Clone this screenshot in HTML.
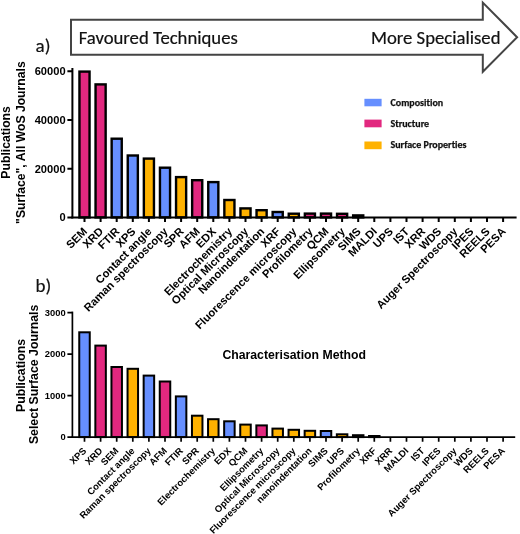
<!DOCTYPE html>
<html><head><meta charset="utf-8"><title>Surface characterisation techniques</title>
<style>
html,body{margin:0;padding:0;background:#fff;}
body{width:520px;height:534px;overflow:hidden;}
svg{display:block;}
</style></head><body>
<svg width="520" height="534" viewBox="0 0 520 534">
<path d="M71 19.8H482.8V2.6L517.1 37.2L482.8 71.8V54.8H71Z" fill="#fff" stroke="#444" stroke-width="2" stroke-linejoin="miter"/>
<g font-family="Carlito, 'Liberation Sans', sans-serif" font-size="18.7" fill="#111" stroke="#111" stroke-width="0.2">
<text x="78.7" y="44.4">Favoured Techniques</text>
<text x="371" y="44.4">More Specialised</text>
<text x="35.6" y="51.9" font-size="19">a)</text>
<text x="35.6" y="291.7" font-size="19">b)</text>
</g>
<rect x="364.4" y="98.8" width="17.2" height="7.5" fill="#668FFF"/>
<rect x="364.4" y="119.6" width="17.2" height="7.7" fill="#E2287F"/>
<rect x="364.4" y="141.5" width="17.2" height="7.7" fill="#FFB200"/>
<g font-family="Carlito, 'Liberation Sans', sans-serif" font-size="10" font-weight="bold" fill="#111" stroke="#111" stroke-width="0.25" style="font-variant-ligatures:none">
<text x="390.5" y="105.6">Composition</text>
<text x="390.5" y="126.6">Structure</text>
<text x="390.5" y="148.1">Surface Properties</text>
</g>
<g font-family="'Liberation Sans', Arial, sans-serif" font-weight="bold" fill="#000">
<rect x="79.45" y="71.60" width="10.10" height="145.80" fill="#E2287F" stroke="#000" stroke-width="2.4"/>
<rect x="95.55" y="84.40" width="10.10" height="133.00" fill="#E2287F" stroke="#000" stroke-width="2.4"/>
<rect x="111.65" y="138.70" width="10.10" height="78.70" fill="#668FFF" stroke="#000" stroke-width="2.4"/>
<rect x="127.75" y="155.50" width="10.10" height="61.90" fill="#668FFF" stroke="#000" stroke-width="2.4"/>
<rect x="143.85" y="158.60" width="10.10" height="58.80" fill="#FFB200" stroke="#000" stroke-width="2.4"/>
<rect x="159.95" y="167.70" width="10.10" height="49.70" fill="#668FFF" stroke="#000" stroke-width="2.4"/>
<rect x="176.05" y="177.10" width="10.10" height="40.30" fill="#FFB200" stroke="#000" stroke-width="2.4"/>
<rect x="192.15" y="180.20" width="10.10" height="37.20" fill="#E2287F" stroke="#000" stroke-width="2.4"/>
<rect x="208.25" y="182.10" width="10.10" height="35.30" fill="#668FFF" stroke="#000" stroke-width="2.4"/>
<rect x="224.35" y="200.00" width="10.10" height="17.40" fill="#FFB200" stroke="#000" stroke-width="2.4"/>
<rect x="240.45" y="208.40" width="10.10" height="9.00" fill="#FFB200" stroke="#000" stroke-width="2.4"/>
<rect x="256.55" y="210.20" width="10.10" height="7.20" fill="#FFB200" stroke="#000" stroke-width="2.4"/>
<rect x="272.65" y="212.00" width="10.10" height="5.40" fill="#668FFF" stroke="#000" stroke-width="2.4"/>
<rect x="288.75" y="213.70" width="10.10" height="3.70" fill="#FFB200" stroke="#000" stroke-width="2.4"/>
<rect x="304.85" y="213.60" width="10.10" height="3.80" fill="#E2287F" stroke="#000" stroke-width="2.4"/>
<rect x="320.95" y="213.60" width="10.10" height="3.80" fill="#E2287F" stroke="#000" stroke-width="2.4"/>
<rect x="337.05" y="213.80" width="10.10" height="3.60" fill="#E2287F" stroke="#000" stroke-width="2.4"/>
<rect x="353.15" y="215.40" width="10.10" height="2.00" fill="#668FFF" stroke="#000" stroke-width="2.4"/>
<path d="M72.4 68.00V218.40" stroke="#000" stroke-width="2" fill="none"/>
<text x="65.6" y="221.48" text-anchor="end" font-size="10.6" textLength="6.19" lengthAdjust="spacingAndGlyphs">0</text>
<text x="65.6" y="172.80" text-anchor="end" font-size="10.6" textLength="30.94" lengthAdjust="spacingAndGlyphs">20000</text>
<text x="65.6" y="124.12" text-anchor="end" font-size="10.6" textLength="30.94" lengthAdjust="spacingAndGlyphs">40000</text>
<text x="65.6" y="75.44" text-anchor="end" font-size="10.6" textLength="30.94" lengthAdjust="spacingAndGlyphs">60000</text>
<path d="M67.4 217.40H72.4M67.4 168.72H72.4M67.4 120.04H72.4M67.4 71.36H72.4" stroke="#000" stroke-width="2" fill="none"/>
<path d="M71.4 217.40H516.6" stroke="#000" stroke-width="2" fill="none"/>
<path d="M84.50 217.40V221.90M100.60 217.40V221.90M116.70 217.40V221.90M132.80 217.40V221.90M148.90 217.40V221.90M165.00 217.40V221.90M181.10 217.40V221.90M197.20 217.40V221.90M213.30 217.40V221.90M229.40 217.40V221.90M245.50 217.40V221.90M261.60 217.40V221.90M277.70 217.40V221.90M293.80 217.40V221.90M309.90 217.40V221.90M326.00 217.40V221.90M342.10 217.40V221.90M358.20 217.40V221.90M374.30 217.40V221.90M390.40 217.40V221.90M406.50 217.40V221.90M422.60 217.40V221.90M438.70 217.40V221.90M454.80 217.40V221.90M470.90 217.40V221.90M487.00 217.40V221.90M503.10 217.40V221.90" stroke="#000" stroke-width="2" fill="none"/>
<g font-size="11.2" text-anchor="end"><text transform="translate(85.10 229.30) rotate(-45)" y="4.03">SEM</text>
<text transform="translate(101.20 229.30) rotate(-45)" y="4.03">XRD</text>
<text transform="translate(117.30 229.30) rotate(-45)" y="4.03">FTIR</text>
<text transform="translate(133.40 229.30) rotate(-45)" y="4.03">XPS</text>
<text transform="translate(149.50 229.30) rotate(-45)" y="4.03">Contact angle</text>
<text transform="translate(165.60 229.30) rotate(-45)" y="4.03">Raman spectroscopy</text>
<text transform="translate(181.70 229.30) rotate(-45)" y="4.03">SPR</text>
<text transform="translate(197.80 229.30) rotate(-45)" y="4.03">AFM</text>
<text transform="translate(213.90 229.30) rotate(-45)" y="4.03">EDX</text>
<text transform="translate(230.00 229.30) rotate(-45)" y="4.03">Electrochemistry</text>
<text transform="translate(246.10 229.30) rotate(-45)" y="4.03">Optical Microscopy</text>
<text transform="translate(262.20 229.30) rotate(-45)" y="4.03">Nanoindentation</text>
<text transform="translate(278.30 229.30) rotate(-45)" y="4.03">XRF</text>
<text transform="translate(294.40 229.30) rotate(-45)" y="4.03">Fluorescence microscopy</text>
<text transform="translate(310.50 229.30) rotate(-45)" y="4.03">Profilometry</text>
<text transform="translate(326.60 229.30) rotate(-45)" y="4.03">QCM</text>
<text transform="translate(342.70 229.30) rotate(-45)" y="4.03">Ellipsometry</text>
<text transform="translate(358.80 229.30) rotate(-45)" y="4.03">SIMS</text>
<text transform="translate(374.90 229.30) rotate(-45)" y="4.03">MALDI</text>
<text transform="translate(391.00 229.30) rotate(-45)" y="4.03">UPS</text>
<text transform="translate(407.10 229.30) rotate(-45)" y="4.03">IST</text>
<text transform="translate(423.20 229.30) rotate(-45)" y="4.03">XRR</text>
<text transform="translate(439.30 229.30) rotate(-45)" y="4.03">WDS</text>
<text transform="translate(455.40 229.30) rotate(-45)" y="4.03">Auger Spectroscopy</text>
<text transform="translate(471.50 229.30) rotate(-45)" y="4.03">IPES</text>
<text transform="translate(487.60 229.30) rotate(-45)" y="4.03">REELS</text>
<text transform="translate(503.70 229.30) rotate(-45)" y="4.03">PESA</text></g>
<g font-size="12.2"><text transform="translate(10.3 142.4) rotate(-90)" text-anchor="middle">Publications</text>
<text transform="translate(24.5 142.6) rotate(-90)" text-anchor="middle">"Surface", All WoS Journals</text></g>
<rect x="79.25" y="332.30" width="10.50" height="104.80" fill="#668FFF" stroke="#000" stroke-width="2.0"/>
<rect x="95.35" y="345.60" width="10.50" height="91.50" fill="#E2287F" stroke="#000" stroke-width="2.0"/>
<rect x="111.45" y="367.00" width="10.50" height="70.10" fill="#E2287F" stroke="#000" stroke-width="2.0"/>
<rect x="127.55" y="368.80" width="10.50" height="68.30" fill="#FFB200" stroke="#000" stroke-width="2.0"/>
<rect x="143.65" y="375.60" width="10.50" height="61.50" fill="#668FFF" stroke="#000" stroke-width="2.0"/>
<rect x="159.75" y="381.50" width="10.50" height="55.60" fill="#E2287F" stroke="#000" stroke-width="2.0"/>
<rect x="175.85" y="396.40" width="10.50" height="40.70" fill="#668FFF" stroke="#000" stroke-width="2.0"/>
<rect x="191.95" y="415.70" width="10.50" height="21.40" fill="#FFB200" stroke="#000" stroke-width="2.0"/>
<rect x="208.05" y="419.20" width="10.50" height="17.90" fill="#FFB200" stroke="#000" stroke-width="2.0"/>
<rect x="224.15" y="421.30" width="10.50" height="15.80" fill="#668FFF" stroke="#000" stroke-width="2.0"/>
<rect x="240.25" y="424.60" width="10.50" height="12.50" fill="#FFB200" stroke="#000" stroke-width="2.0"/>
<rect x="256.35" y="425.40" width="10.50" height="11.70" fill="#E2287F" stroke="#000" stroke-width="2.0"/>
<rect x="272.45" y="428.60" width="10.50" height="8.50" fill="#FFB200" stroke="#000" stroke-width="2.0"/>
<rect x="288.55" y="429.80" width="10.50" height="7.30" fill="#FFB200" stroke="#000" stroke-width="2.0"/>
<rect x="304.65" y="430.80" width="10.50" height="6.30" fill="#FFB200" stroke="#000" stroke-width="2.0"/>
<rect x="320.75" y="431.00" width="10.50" height="6.10" fill="#668FFF" stroke="#000" stroke-width="2.0"/>
<rect x="336.85" y="434.30" width="10.50" height="2.80" fill="#FFB200" stroke="#000" stroke-width="2.0"/>
<rect x="352.95" y="435.20" width="10.50" height="1.90" fill="#E2287F" stroke="#000" stroke-width="2.0"/>
<rect x="369.05" y="436.00" width="10.50" height="1.10" fill="#668FFF" stroke="#000" stroke-width="2.0"/>
<path d="M72.4 311.60V437.95" stroke="#000" stroke-width="1.7" fill="none"/>
<text x="65.6" y="440.48" text-anchor="end" font-size="9.4">0</text>
<text x="65.6" y="398.98" text-anchor="end" font-size="9.4">1000</text>
<text x="65.6" y="357.48" text-anchor="end" font-size="9.4">2000</text>
<text x="65.6" y="315.98" text-anchor="end" font-size="9.4">3000</text>
<path d="M67.4 437.10H72.4M67.4 395.60H72.4M67.4 354.10H72.4M67.4 312.60H72.4" stroke="#000" stroke-width="1.7" fill="none"/>
<path d="M71.55 437.10H515.2" stroke="#000" stroke-width="1.7" fill="none"/>
<path d="M84.50 437.10V441.70M100.60 437.10V441.70M116.70 437.10V441.70M132.80 437.10V441.70M148.90 437.10V441.70M165.00 437.10V441.70M181.10 437.10V441.70M197.20 437.10V441.70M213.30 437.10V441.70M229.40 437.10V441.70M245.50 437.10V441.70M261.60 437.10V441.70M277.70 437.10V441.70M293.80 437.10V441.70M309.90 437.10V441.70M326.00 437.10V441.70M342.10 437.10V441.70M358.20 437.10V441.70M374.30 437.10V441.70M390.40 437.10V441.70M406.50 437.10V441.70M422.60 437.10V441.70M438.70 437.10V441.70M454.80 437.10V441.70M470.90 437.10V441.70M487.00 437.10V441.70M503.10 437.10V441.70" stroke="#000" stroke-width="1.7" fill="none"/>
<g font-size="9.5" text-anchor="end"><text transform="translate(84.60 449.00) rotate(-45)" y="3.42">XPS</text>
<text transform="translate(100.70 449.00) rotate(-45)" y="3.42">XRD</text>
<text transform="translate(116.80 449.00) rotate(-45)" y="3.42">SEM</text>
<text transform="translate(132.90 449.00) rotate(-45)" y="3.42">Contact angle</text>
<text transform="translate(149.00 449.00) rotate(-45)" y="3.42">Raman spectroscopy</text>
<text transform="translate(165.10 449.00) rotate(-45)" y="3.42">AFM</text>
<text transform="translate(181.20 449.00) rotate(-45)" y="3.42">FTIR</text>
<text transform="translate(197.30 449.00) rotate(-45)" y="3.42">SPR</text>
<text transform="translate(213.40 449.00) rotate(-45)" y="3.42">Electrochemistry</text>
<text transform="translate(229.50 449.00) rotate(-45)" y="3.42">EDX</text>
<text transform="translate(245.60 449.00) rotate(-45)" y="3.42">QCM</text>
<text transform="translate(261.70 449.00) rotate(-45)" y="3.42">Ellipsometry</text>
<text transform="translate(277.80 449.00) rotate(-45)" y="3.42">Optical Microscopy</text>
<text transform="translate(293.90 449.00) rotate(-45)" y="3.42">Fluorescence microscopy</text>
<text transform="translate(310.00 449.00) rotate(-45)" y="3.42">nanoindentation</text>
<text transform="translate(326.10 449.00) rotate(-45)" y="3.42">SIMS</text>
<text transform="translate(342.20 449.00) rotate(-45)" y="3.42">UPS</text>
<text transform="translate(358.30 449.00) rotate(-45)" y="3.42">Profilometry</text>
<text transform="translate(374.40 449.00) rotate(-45)" y="3.42">XRF</text>
<text transform="translate(390.50 449.00) rotate(-45)" y="3.42">XRR</text>
<text transform="translate(406.60 449.00) rotate(-45)" y="3.42">MALDI</text>
<text transform="translate(422.70 449.00) rotate(-45)" y="3.42">IST</text>
<text transform="translate(438.80 449.00) rotate(-45)" y="3.42">IPES</text>
<text transform="translate(454.90 449.00) rotate(-45)" y="3.42">Auger Spectroscopy</text>
<text transform="translate(471.00 449.00) rotate(-45)" y="3.42">WDS</text>
<text transform="translate(487.10 449.00) rotate(-45)" y="3.42">REELS</text>
<text transform="translate(503.20 449.00) rotate(-45)" y="3.42">PESA</text></g>
<g font-size="12.3"><text transform="translate(24.8 375.5) rotate(-90)" text-anchor="middle">Publications</text>
<text transform="translate(38.3 374.4) rotate(-90)" text-anchor="middle">Select Surface Journals</text></g>
<text x="222.4" y="358.5" font-size="12.25">Characterisation Method</text>
</g>
</svg>
</body></html>
